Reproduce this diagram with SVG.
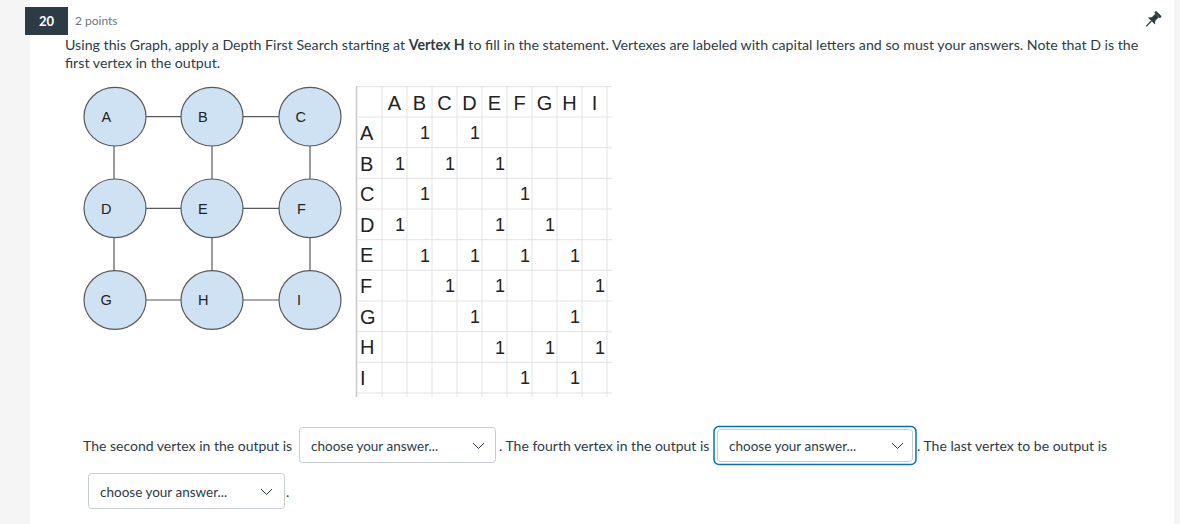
<svg xmlns="http://www.w3.org/2000/svg" width="1180" height="524" viewBox="0 0 1180 524">
<style>
.ui{font-family:Lato,"Noto Sans",sans-serif;fill:#2d3b45;font-size:14px}
.nd ellipse{fill:#cfe2f3;stroke:#595959;stroke-width:1.2}
.nd text{font-family:"Liberation Sans",Arial,sans-serif;font-size:14.5px;fill:#222}
.edge line{stroke:#595959;stroke-width:1.2}
.gl{stroke:#e3e3e3;stroke-width:1}
.hd{font-family:"Liberation Sans",Arial,sans-serif;font-size:20px;fill:#222;text-anchor:middle}
.rl{font-family:"Liberation Sans",Arial,sans-serif;font-size:20px;fill:#222}
.one{font-family:"Liberation Sans",Arial,sans-serif;font-size:18px;fill:#222;text-anchor:end}
.dd{fill:#fff;stroke:#c7cdd1;stroke-width:1}
.chev{fill:none;stroke:#2d3b45;stroke-width:1}
</style>
<rect width="1180" height="524" fill="#fff"/>
<rect x="0" y="0" width="30" height="524" fill="#f5f5f5"/>
<rect x="1174" y="0" width="6" height="524" fill="#f5f5f5"/>
<rect x="25" y="7" width="43" height="28" fill="#2d3b45"/>
<text x="46.5" y="26" text-anchor="middle" style="font-family:Lato,sans-serif;font-size:13px;font-weight:bold;fill:#fff">20</text>
<text x="75" y="25" style="font-family:Lato,sans-serif;font-size:12px;fill:#6b7780">2 points</text>
<g transform="translate(1152.5,20) rotate(45)" fill="#2d3b45">
<rect x="-4" y="-9" width="8" height="2.5" rx="0.5"/>
<path d="M-2.5,-6.5 L2.5,-6.5 L2.5,-1.5 L5,1.5 L-5,1.5 L-2.5,-1.5 Z"/>
<line x1="0" y1="1.5" x2="0" y2="9" stroke="#2d3b45" stroke-width="1.3"/>
</g>
<text x="65" y="50" class="ui" style="font-size:14.2px">Using this Graph, apply a Depth First Search starting at <tspan font-weight="bold">Vertex H</tspan> to fill in the statement. Vertexes are labeled with capital letters and so must your answers. Note that D is the</text>
<text x="65" y="68" class="ui" style="font-size:14.2px">first vertex in the output.</text>
<g id="connectors" class="edge">
<line x1="146" y1="116.7" x2="181" y2="116.7"/>
<line x1="243" y1="116.7" x2="279" y2="116.7"/>
<line x1="146" y1="208.3" x2="181" y2="208.3"/>
<line x1="243" y1="208.3" x2="279" y2="208.3"/>
<line x1="146" y1="300" x2="181" y2="300"/>
<line x1="243" y1="300" x2="279" y2="300"/>
<line x1="114" y1="146" x2="114" y2="179.3"/>
<line x1="212" y1="146" x2="212" y2="179.3"/>
<line x1="310" y1="146" x2="310" y2="179.3"/>
<line x1="114" y1="237.6" x2="114" y2="270.7"/>
<line x1="212" y1="237.6" x2="212" y2="270.7"/>
<line x1="310" y1="237.6" x2="310" y2="270.7"/>
</g>
<g id="node-A" class="nd"><ellipse cx="115" cy="116.7" rx="31" ry="29.3"/><text x="101.5" y="122">A</text></g>
<g id="node-B" class="nd"><ellipse cx="212" cy="116.7" rx="31" ry="29.3"/><text x="198" y="122">B</text></g>
<g id="node-C" class="nd"><ellipse cx="310" cy="116.7" rx="31" ry="29.3"/><text x="295.5" y="122">C</text></g>
<g id="node-D" class="nd"><ellipse cx="115" cy="208.3" rx="31" ry="29.3"/><text x="101" y="213.5">D</text></g>
<g id="node-E" class="nd"><ellipse cx="212" cy="208.3" rx="31" ry="29.3"/><text x="198" y="213.5">E</text></g>
<g id="node-F" class="nd"><ellipse cx="310" cy="208.3" rx="31" ry="29.3"/><text x="297" y="213.5">F</text></g>
<g id="node-G" class="nd"><ellipse cx="115" cy="300" rx="31" ry="29.3"/><text x="100.5" y="305.2">G</text></g>
<g id="node-H" class="nd"><ellipse cx="212" cy="300" rx="31" ry="29.3"/><text x="198" y="305.2">H</text></g>
<g id="node-I" class="nd"><ellipse cx="310" cy="300" rx="31" ry="29.3"/><text x="297" y="305.2">I</text></g>
<g id="matrix">
<g class="gl">
<line x1="382" y1="86" x2="382" y2="397"/><line x1="407" y1="86" x2="407" y2="397"/><line x1="432" y1="86" x2="432" y2="397"/><line x1="457" y1="86" x2="457" y2="397"/><line x1="482" y1="86" x2="482" y2="397"/><line x1="507" y1="86" x2="507" y2="397"/><line x1="532" y1="86" x2="532" y2="397"/><line x1="557" y1="86" x2="557" y2="397"/><line x1="582" y1="86" x2="582" y2="397"/><line x1="607" y1="86" x2="607" y2="397"/>
<line x1="356" y1="86.7" x2="612" y2="86.7"/><line x1="356" y1="117" x2="612" y2="117"/><line x1="356" y1="147.7" x2="612" y2="147.7"/><line x1="356" y1="178.3" x2="612" y2="178.3"/><line x1="356" y1="209" x2="612" y2="209"/><line x1="356" y1="239.7" x2="612" y2="239.7"/><line x1="356" y1="270.3" x2="612" y2="270.3"/><line x1="356" y1="301" x2="612" y2="301"/><line x1="356" y1="331.7" x2="612" y2="331.7"/><line x1="356" y1="362.3" x2="612" y2="362.3"/><line x1="356" y1="393" x2="612" y2="393"/>
</g>
<line x1="356.5" y1="86" x2="356.5" y2="397" stroke="#c8c8c8" stroke-width="1.5"/>
<text class="hd" y="110"><tspan x="394.5">A</tspan><tspan x="419.5">B</tspan><tspan x="444.5">C</tspan><tspan x="469.5">D</tspan><tspan x="494.5">E</tspan><tspan x="519.5">F</tspan><tspan x="544.5">G</tspan><tspan x="569.5">H</tspan><tspan x="594.5">I</tspan></text>
<text class="rl" x="360" y="140">A</text>
<text class="rl" x="360" y="170.5">B</text>
<text class="rl" x="360" y="201">C</text>
<text class="rl" x="360" y="231.5">D</text>
<text class="rl" x="360" y="262">E</text>
<text class="rl" x="360" y="292.5">F</text>
<text class="rl" x="360" y="323.5">G</text>
<text class="rl" x="360" y="354">H</text>
<text class="rl" x="360" y="385">I</text>
<g class="one">
<text y="139"><tspan x="430">1</tspan><tspan x="480">1</tspan></text>
<text y="169.6"><tspan x="405">1</tspan><tspan x="455">1</tspan><tspan x="505">1</tspan></text>
<text y="200.3"><tspan x="430">1</tspan><tspan x="530">1</tspan></text>
<text y="231"><tspan x="405">1</tspan><tspan x="505">1</tspan><tspan x="555">1</tspan></text>
<text y="261.6"><tspan x="430">1</tspan><tspan x="480">1</tspan><tspan x="530">1</tspan><tspan x="580">1</tspan></text>
<text y="292.3"><tspan x="455">1</tspan><tspan x="505">1</tspan><tspan x="605">1</tspan></text>
<text y="323"><tspan x="480">1</tspan><tspan x="580">1</tspan></text>
<text y="353.6"><tspan x="505">1</tspan><tspan x="555">1</tspan><tspan x="605">1</tspan></text>
<text y="384.3"><tspan x="530">1</tspan><tspan x="580">1</tspan></text>
</g>
</g>
<text x="83" y="451" class="ui">The second vertex in the output is</text>
<rect class="dd" x="299.5" y="427.5" width="196" height="35" rx="3"/>
<text x="311" y="451" class="ui" style="font-size:13.5px">choose your answer...</text>
<path class="chev" d="M473,443 L478.5,448.5 L484,443"/>
<text x="499" y="451" class="ui">. The fourth vertex in the output is</text>
<rect x="714" y="426.5" width="202" height="38" rx="5" fill="#fff" stroke="#0374b5" stroke-width="1.5"/>
<rect x="717.5" y="429.5" width="195" height="32" rx="3" fill="#fff" stroke="#c7cdd1" stroke-width="1"/>
<text x="729" y="451" class="ui" style="font-size:13.5px">choose your answer...</text>
<path class="chev" d="M892,443 L897.5,448.5 L903,443"/>
<text x="917" y="451" class="ui">. The last vertex to be output is</text>
<rect class="dd" x="88.5" y="473.5" width="196" height="35" rx="3"/>
<text x="100" y="497" class="ui" style="font-size:13.5px">choose your answer...</text>
<path class="chev" d="M261,489 L266.5,494.5 L272,489"/>
<text x="286" y="497" class="ui">.</text>
</svg>
